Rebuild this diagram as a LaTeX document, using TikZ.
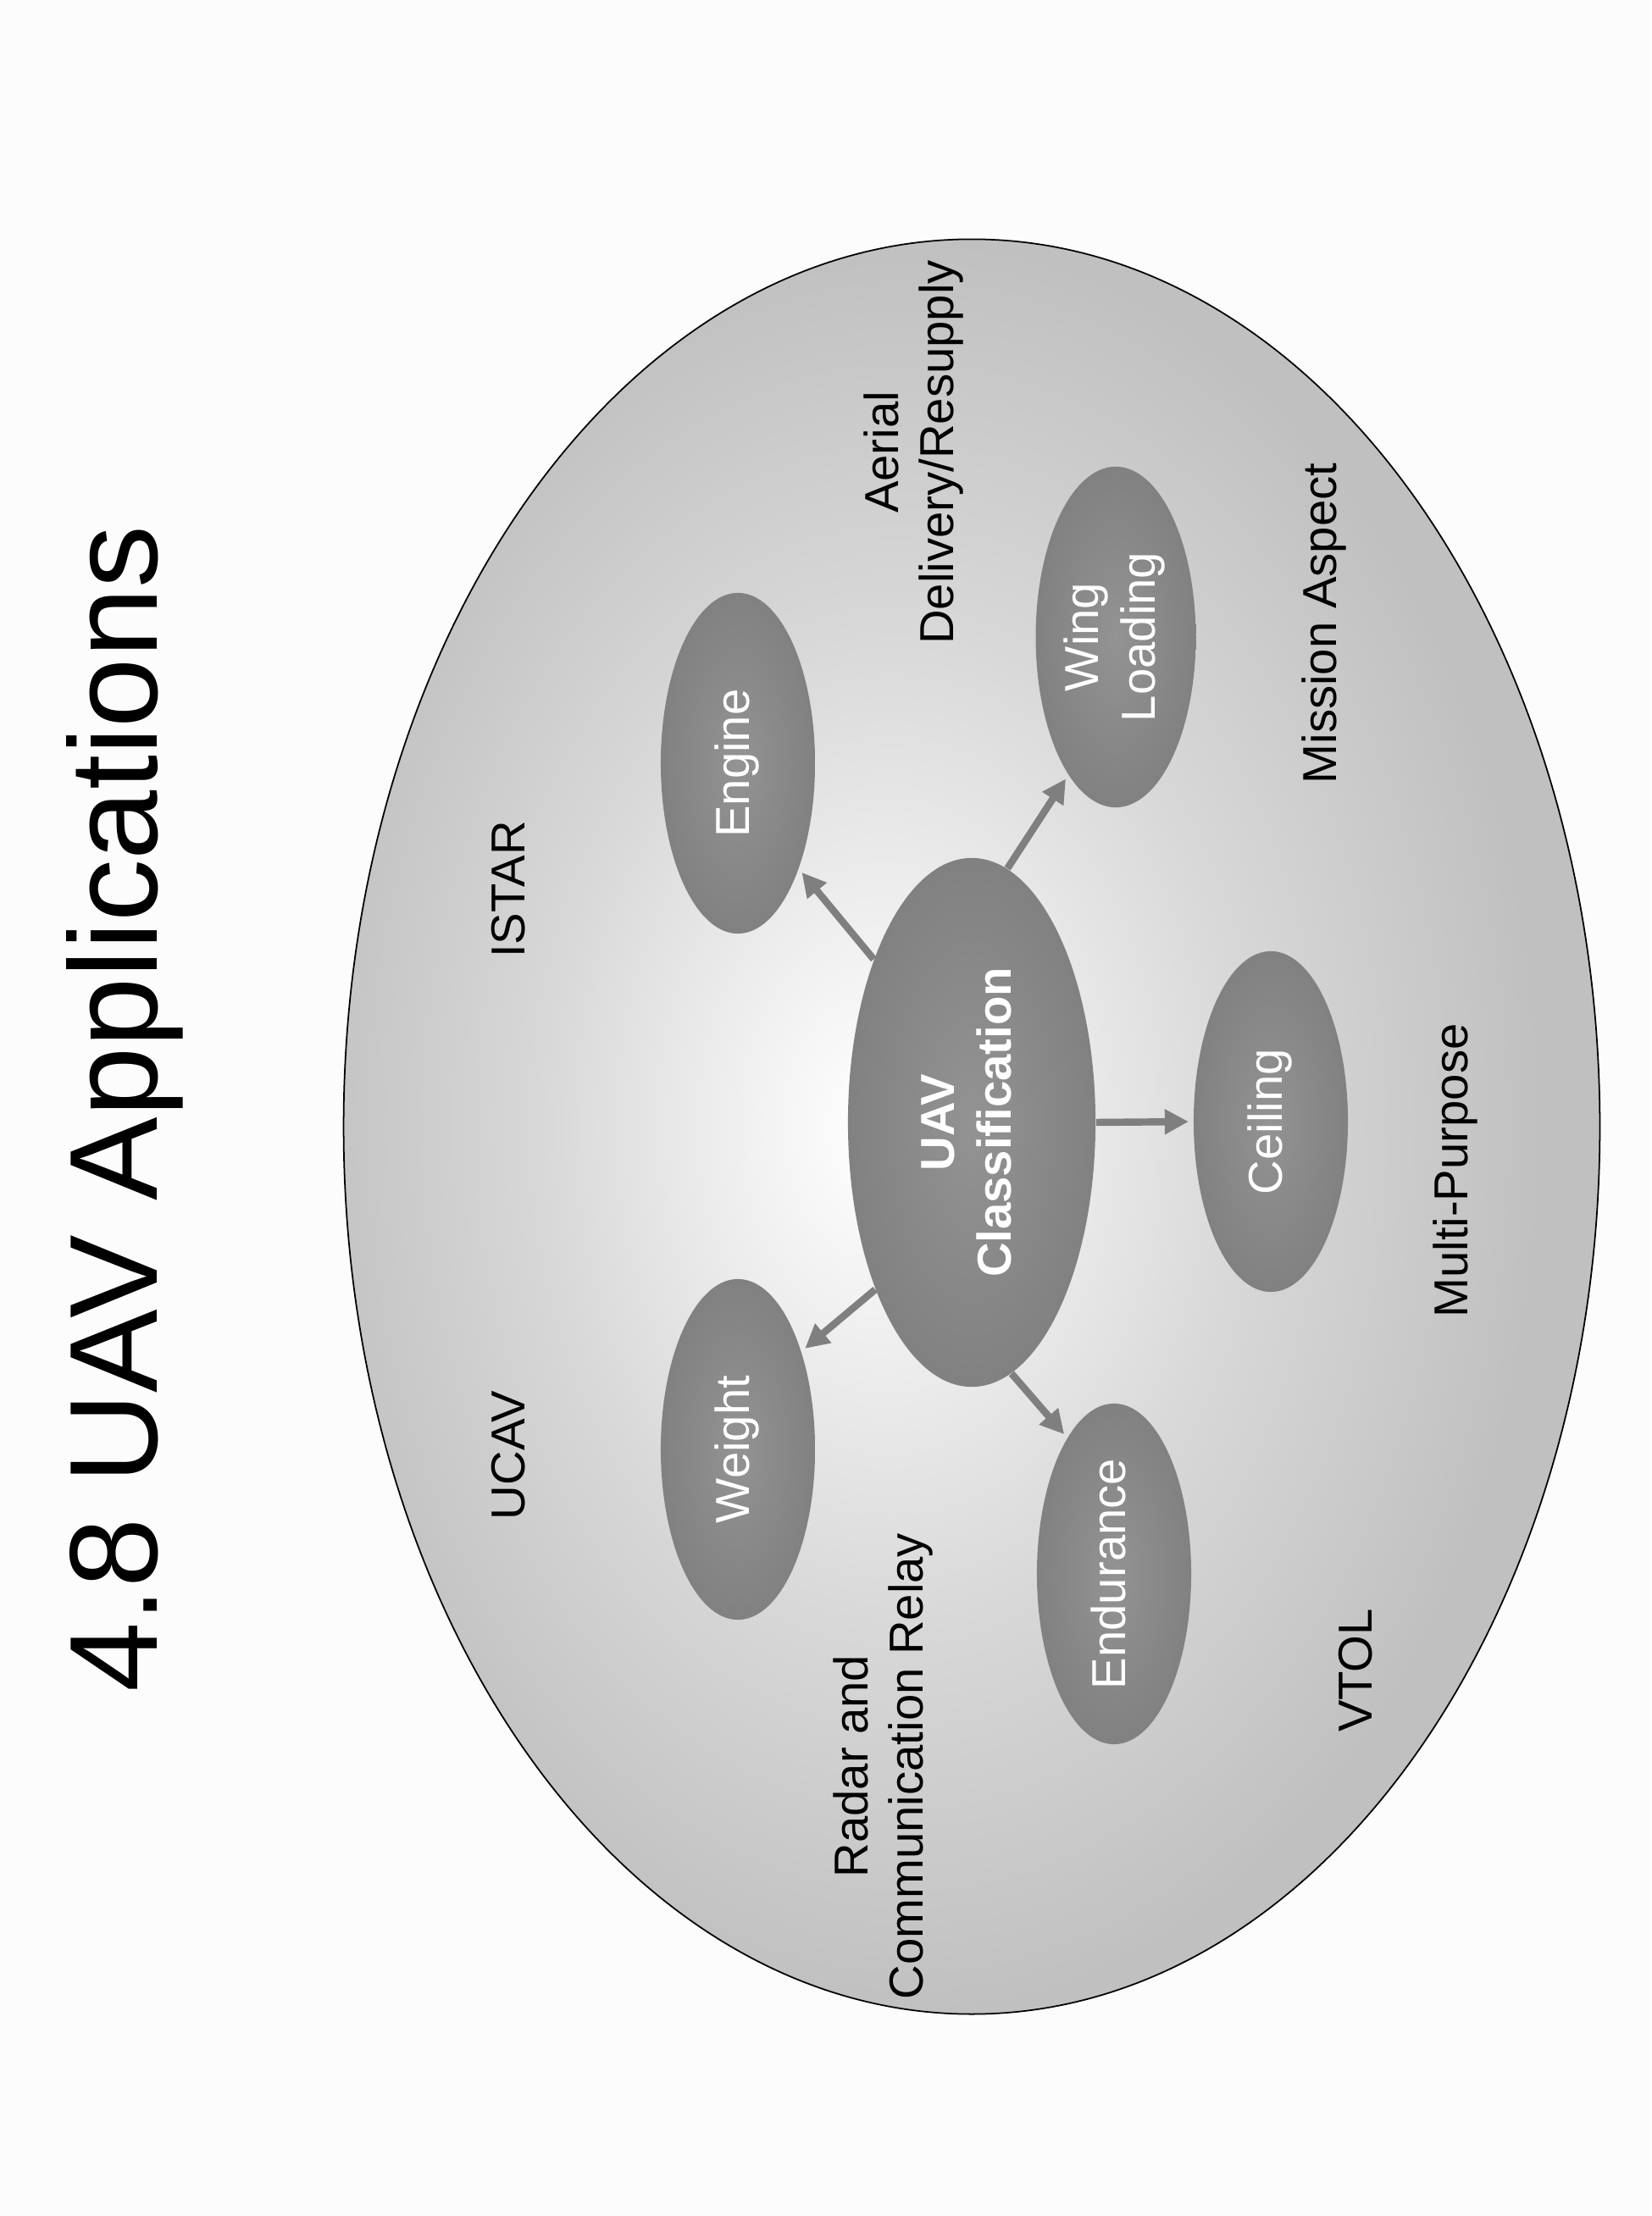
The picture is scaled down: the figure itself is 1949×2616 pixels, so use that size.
\documentclass[tikz,border=0pt]{standalone}
\usepackage{fontspec}
\setmainfont{Liberation Sans}
\usetikzlibrary{shapes.geometric,arrows.meta}
\definecolor{pagebg}{HTML}{FCFCFC}
\definecolor{ringgrey}{HTML}{C0C0C0}
\definecolor{glowlight}{HTML}{ECECEC}
\definecolor{glowgrey}{HTML}{D8D8D8}
\definecolor{bubbledark}{HTML}{797979}
\definecolor{bubblelight}{HTML}{939393}
\definecolor{arrowgrey}{HTML}{7F7F7F}
\pgfdeclareradialshading{glow}{\pgfpoint{-4bp}{0bp}}{color(0bp)=(white); color(7bp)=(glowlight); color(14bp)=(glowgrey); color(25bp)=(ringgrey); color(60bp)=(ringgrey)}
\pgfdeclareradialshading{bubbleshade}{\pgfpoint{0bp}{0bp}}{color(0bp)=(bubblelight); color(36bp)=(bubbledark); color(50bp)=(bubbledark)}
\newcommand{\uptext}[1]{\rotatebox{90}{\begin{tabular}{@{}c@{}}#1\end{tabular}}}

\begin{document}
\begin{tikzpicture}[x=0.01cm,y=-0.01cm,
	bubble/.style={ellipse,inner sep=0pt,minimum width=1.82cm,minimum height=4.02cm,
		shading=bubbleshade,text=white,font=\fontsize{16}{19}\selectfont},
	tag/.style={rotate=90,align=center,font=\fontsize{16}{18.5}\selectfont},
	link/.style={arrowgrey,line width=2.4pt,-{Triangle[length=8pt,width=8pt]},shorten >=1.5pt}]
			\fill[pagebg] (0,0) rectangle (1949,2616);
			% outer ring of applications
			\fill[ringgrey] (1147,1330) ellipse [x radius=7.41cm,y radius=10.47cm];
			\shade[shading=glow] (1147,1330) ellipse [x radius=7.41cm,y radius=10.47cm];
			\draw[line width=0.5pt] (1147,1330) ellipse [x radius=7.41cm,y radius=10.47cm];
			\node[rotate=90,anchor=base,font=\fontsize{42}{50}\selectfont] (title) at (185,1309) {4.8 UAV Applications};
			% classification bubbles
			\node[bubble,minimum width=2.92cm,minimum height=6.24cm,font=\bfseries\fontsize{16}{19}\selectfont] (uav) at (1147,1325) {\uptext{UAV\\Classification}};
			\node[bubble] (engine) at (871,901) {\uptext{Engine}};
			\node[bubble] (wing) at (1317,752) {\uptext{Wing\\Loading}};
			\node[bubble] (ceiling) at (1500,1324) {\uptext{Ceiling}};
			\node[bubble] (weight) at (871,1711) {\uptext{Weight}};
			\node[bubble] (endurance) at (1315,1858) {\uptext{Endurance}};
			\draw[link] (uav.121) -- (engine.-60);
			\draw[link] (uav.82) -- (wing.251);
			\draw[link] (uav.east) -- (ceiling.west);
			\draw[link] (uav.240) -- (weight.57);
			\draw[link] (uav.-81) -- (endurance.109);
			% applications
			\node[tag] (istar) at (600,1050) {ISTAR};
			\node[tag] (ucav) at (600,1718) {UCAV};
			\node[tag] (aerial) at (1078,534) {Aerial\\Delivery/Resupply};
			\node[tag] (mission) at (1563,736) {Mission Aspect};
			\node[tag] (multi) at (1718,1382) {Multi-Purpose};
			\node[tag] (vtol) at (1600,1972) {VTOL};
			\node[tag] (radar) at (1042,2085) {Radar and\\Communication Relay};
		\end{tikzpicture}
\end{document}
